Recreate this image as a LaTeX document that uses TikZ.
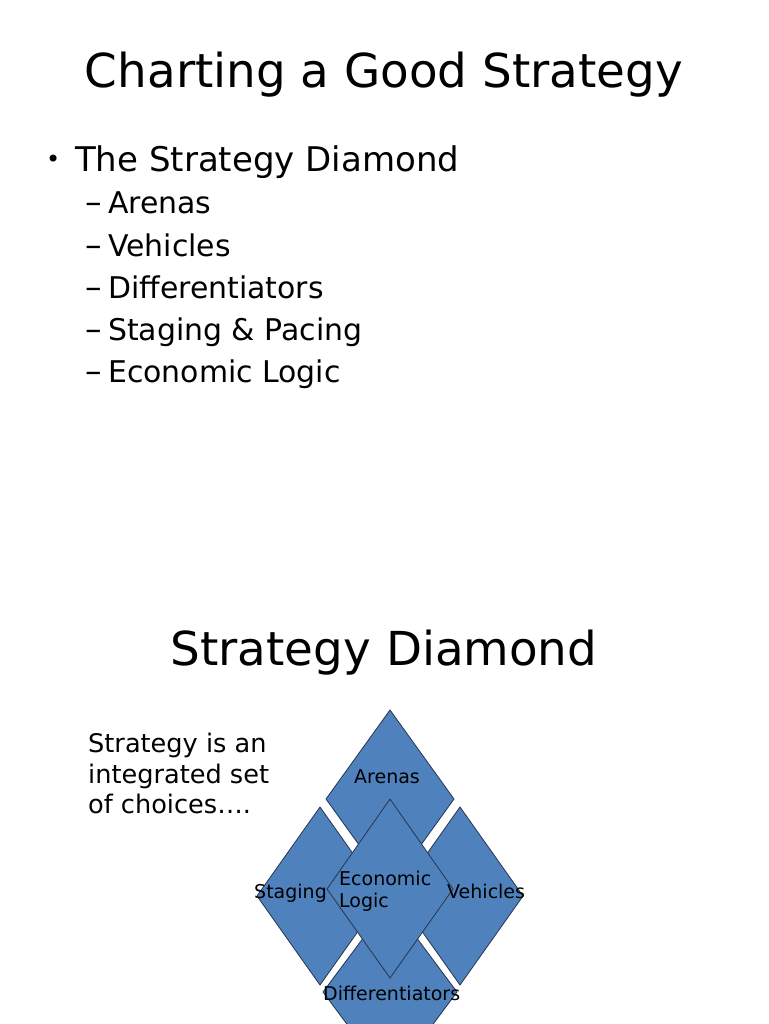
\documentclass[tikz,border=0pt]{standalone}
\usepackage{fontspec}
\setmainfont{DejaVu Sans}
\definecolor{dfill}{HTML}{4F81BD}
\definecolor{dline}{HTML}{26364F}
\tikzset{
  dshape/.style={fill=dfill, draw=dline, line width=0.8pt, line join=miter},
  titletxt/.style={anchor=base, inner sep=0pt, font=\fontsize{46.8}{56}\selectfont},
  lvlone/.style={anchor=base west, inner sep=0pt, font=\fontsize{34}{40}\selectfont},
  bulletmark/.style={anchor=base west, inner sep=0pt, font=\fontsize{24}{28}\selectfont},
  lvltwo/.style={anchor=base west, inner sep=0pt, font=\fontsize{29.9}{36}\selectfont},
  dashmark/.style={anchor=base west, inner sep=0pt, font=\fontsize{33}{36}\selectfont},
  bodytxt/.style={anchor=base west, inner sep=0pt, font=\fontsize{25.6}{30}\selectfont},
  dlabel/.style={anchor=base west, inner sep=0pt, font=\fontsize{19}{23}\selectfont},
}
\begin{document}
\begin{tikzpicture}[x=1pt,y=-1pt]
\useasboundingbox (0,0) rectangle (768,1024);
% slide 1
\node[titletxt] (t1) at (384,88) {Charting a Good Strategy};
\node[bulletmark] (b0) at (46,168) {•};
\node[lvlone] (b1) at (75,172) {The Strategy Diamond};
\node[dashmark] (d1) at (85,214) {–};
\node[lvltwo] (l1) at (108,214) {Arenas};
\node[dashmark] (d2) at (85,256) {–};
\node[lvltwo] (l2) at (108,256) {Vehicles};
\node[dashmark] (d3) at (85,298) {–};
\node[lvltwo] (l3) at (108,298) {Differentiators};
\node[dashmark] (d4) at (85,340) {–};
\node[lvltwo] (l4) at (108,340) {Staging \& Pacing};
\node[dashmark] (d5) at (85,382) {–};
\node[lvltwo] (l5) at (108,382) {Economic Logic};
% slide 2
\node[titletxt] (t2) at (384,665) {Strategy Diamond};
\node[bodytxt] (p1) at (88,752) {Strategy is an};
\node[bodytxt] (p2) at (88,783) {integrated set};
\node[bodytxt] (p3) at (88,813) {of choices….};
% diamonds
\draw[dshape] (390,710) -- (454,799) -- (390,888) -- (326,799) -- cycle;
\draw[dshape] (320,807) -- (383,896) -- (320,985) -- (257,896) -- cycle;
\draw[dshape] (460,807) -- (523,896) -- (460,985) -- (397,896) -- cycle;
\draw[dshape] (390,902) -- (457,992) -- (390,1082) -- (323,992) -- cycle;
\draw[dshape] (390,799) -- (453,889) -- (390,978) -- (327,889) -- cycle;
% labels
\node[dlabel] (arenas) at (354,783) {Arenas};
\node[dlabel] (staging) at (254,898) {Staging};
\node[dlabel] (vehicles) at (447,898) {Vehicles};
\node[dlabel] (econ1) at (339,885) {Economic};
\node[dlabel] (econ2) at (339,907) {Logic};
\node[dlabel] (diff) at (323,1000) {Differentiators};
\end{tikzpicture}
\end{document}
